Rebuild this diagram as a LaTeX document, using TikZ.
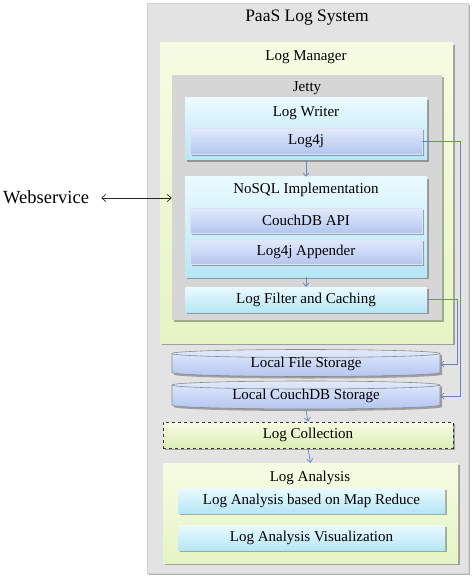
\documentclass[tikz,border=0pt]{standalone}
\usepackage{fontspec}
\setmainfont{Liberation Serif}
\usetikzlibrary{arrows.meta,shadows}
\definecolor{outerg}{HTML}{E3E3E3}
\definecolor{jettyg}{HTML}{D6D6D6}
\definecolor{greenA}{HTML}{F6FCE4}
\definecolor{greenB}{HTML}{E6F4C4}
\definecolor{greenC}{HTML}{DCEEB4}
\definecolor{cyanA}{HTML}{EAFAFF}
\definecolor{cyanB}{HTML}{B6E6F6}
\definecolor{lavA}{HTML}{E2EAFC}
\definecolor{lavB}{HTML}{B4C6F0}
\definecolor{conn}{HTML}{6A84C0}
\begin{document}
\begin{tikzpicture}[x=1pt,y=-1pt,
  txt/.style={font=\fontsize{15}{17}\selectfont, inner sep=0pt},
  shad/.style={drop shadow={shadow xshift=2pt,shadow yshift=-2pt,opacity=0.3,fill=black}},
  panel/.style={rectangle, inner sep=0pt, draw=none},
  outerbox/.style={panel, fill=outerg, draw=black!18, shad},
  greenbox/.style={panel, top color=greenA, bottom color=greenB, shad},
  jettybox/.style={panel, fill=jettyg, shad},
  cyanbox/.style={panel, top color=cyanA, bottom color=cyanB, shad},
  lavbox/.style={panel, top color=lavA, bottom color=lavB, draw=lavB!80!black!30, shad},
  cylfill/.style={top color=lavA, bottom color=lavB, draw=black!45, line width=0.6pt, shad},
  flow/.style={draw=conn, line width=0.7pt, -{Straight Barb[length=3.5pt,width=6pt]}},
]
\useasboundingbox (0,0) rectangle (474,577);

% containers
\node[outerbox, minimum width=321, minimum height=570] (outer) at (307.5,288) {};
\node[txt, font=\fontsize{17.5}{20}\selectfont] (outerlbl) at (307,18) {PaaS Log System};

\node[greenbox, minimum width=293, minimum height=300] (logman) at (306.5,193) {};
\node[txt] (logmanlbl) at (306,57) {Log Manager};

\node[jettybox, minimum width=270, minimum height=245] (jetty) at (307,197.5) {};
\node[txt] (jettylbl) at (307,88) {Jetty};

\node[cyanbox, minimum width=242, minimum height=62] (logwriter) at (306,129) {};
\node[txt] (logwriterlbl) at (306,113) {Log Writer};
\node[lavbox, minimum width=232, minimum height=26, txt] (log4j) at (306,141) {Log4j};

\node[cyanbox, minimum width=242, minimum height=100] (nosql) at (306,227) {};
\node[txt] (nosqllbl) at (306,190) {NoSQL Implementation};
\node[lavbox, minimum width=232, minimum height=25, txt] (couchapi) at (306,220.5) {CouchDB API};
\node[lavbox, minimum width=232, minimum height=25, txt] (appender) at (306,251.5) {Log4j Appender};

\node[cyanbox, minimum width=242, minimum height=25, txt] (filter) at (306,299.5) {Log Filter and Caching};

% cylinders
\path[cylfill] (172,353.5) -- (172,372.5) arc[start angle=180,end angle=0,x radius=134,y radius=4]
  -- (440,353.5) arc[start angle=0,end angle=-180,x radius=134,y radius=4] -- cycle;
\draw[draw=black!45, line width=0.6pt] (172,353.5) arc[start angle=180,end angle=0,x radius=134,y radius=4];
\node[panel, txt, minimum width=268, minimum height=27] (lfs) at (306,364) {Local File Storage};

\path[cylfill] (172,385) -- (172,405) arc[start angle=180,end angle=0,x radius=134,y radius=4]
  -- (440,385) arc[start angle=0,end angle=-180,x radius=134,y radius=4] -- cycle;
\draw[draw=black!45, line width=0.6pt] (172,385) arc[start angle=180,end angle=0,x radius=134,y radius=4];
\node[panel, txt, minimum width=268, minimum height=28] (lcs) at (306,396) {Local CouchDB Storage};

\node[greenbox, top color=greenA, bottom color=greenC, draw=black!80, dashed, line width=0.8pt,
  minimum width=290, minimum height=26, txt] (collection) at (308,435) {Log Collection};

\node[greenbox, minimum width=295, minimum height=100] (analysis) at (310.5,513) {};
\node[txt] (analysislbl) at (310,478) {Log Analysis};
\node[cyanbox, minimum width=267, minimum height=25, txt] (mapreduce) at (311.5,500.5) {Log Analysis based on Map Reduce};
\node[cyanbox, minimum width=267, minimum height=25, txt] (visual) at (311.5,537.5) {Log Analysis Visualization};

% webservice
\node[txt, font=\fontsize{18.5}{21}\selectfont, anchor=west] (web) at (3,197) {Webservice};
\draw[black!85, line width=0.7pt, {Straight Barb[length=4pt,width=7pt]}-{Straight Barb[length=4pt,width=7pt]}]
  ([xshift=12pt]web.east |- 0,198) coordinate (wa) -- (jetty.west |- wa);

% connectors
\draw[flow] (logwriter.south) -- (nosql.north);
\draw[flow] (nosql.south) -- (filter.north);
\draw[flow] (lcs.south) -- (collection.north);
\draw[flow] (collection.south) -- (analysis.north);
\draw[flow] (log4j.east) -- ++(38,0) |- (lcs.east);
\draw[flow] (filter.east) -- ++(30,0) |- (lfs.east);
\end{tikzpicture}
\end{document}
